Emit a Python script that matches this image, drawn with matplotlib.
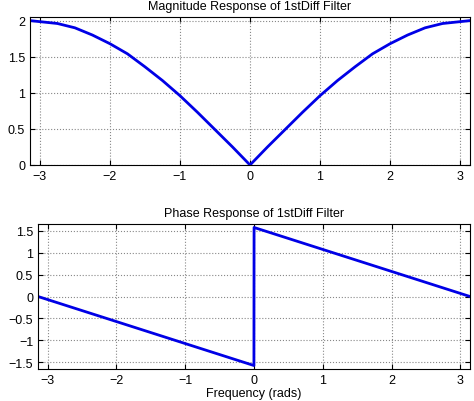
import matplotlib
matplotlib.use("Agg")
import matplotlib.pyplot as plt
plt.rcParams['font.family'] = ['Liberation Sans', 'DejaVu Sans']

w_mag = [-3.1416, -2.75, -2.5, -2.25, -2.0, -1.75, -1.5, -1.25, -1.0, -0.75, -0.5, -0.25, 0.0,
         0.25, 0.5, 0.75, 1.0, 1.25, 1.5, 1.75, 2.0, 2.25, 2.5, 2.75, 3.1416]
mag = [2.0, 1.96, 1.90, 1.80, 1.68, 1.54, 1.36, 1.17, 0.96, 0.73, 0.49, 0.25, 0.0,
       0.25, 0.49, 0.73, 0.96, 1.17, 1.36, 1.54, 1.68, 1.80, 1.90, 1.96, 2.0]
w_ph = [-3.1416, -0.001, 0.001, 3.1416]
ph = [0.0, -1.5708, 1.5708, 0.0]

fig = plt.figure(figsize=(4.74, 4.02), dpi=100)
ax1 = fig.add_axes([30/474, 1-166/402, 440/474, 148/402])
ax2 = fig.add_axes([38/474, 1-370/402, 432/474, 145/402])
for ax in (ax1, ax2):
    ax.grid(True, linestyle=':', color='#888888', linewidth=0.8)
    ax.set_xlim(-3.1416, 3.1416)
    ax.tick_params(labelsize=9, direction='in', top=True, right=True)
    ax.set_xticks([-3, -2, -1, 0, 1, 2, 3])
    ax.set_xticklabels(['\u22123', '\u22122', '\u22121', '0', '1', '2', '3'])
ax1.plot(w_mag, mag, color='#0000e6', linewidth=2)
ax1.set_ylim(0, 2.05)
ax1.set_yticks([0, 0.5, 1, 1.5, 2])
ax1.set_yticklabels(['0', '0.5', '1', '1.5', '2'])
ax1.set_title('Magnitude Response of 1stDiff Filter', fontsize=9)
ax2.plot(w_ph, ph, color='#0000e6', linewidth=2)
ax2.set_ylim(-1.65, 1.65)
ax2.set_yticks([-1.5, -1, -0.5, 0, 0.5, 1, 1.5])
ax2.set_yticklabels(['\u22121.5', '\u22121', '\u22120.5', '0', '0.5', '1', '1.5'])
ax2.set_title('Phase Response of 1stDiff Filter', fontsize=9)
ax2.set_xlabel('Frequency (rads)', fontsize=9, labelpad=1)
fig.savefig('out.png', dpi=100)
